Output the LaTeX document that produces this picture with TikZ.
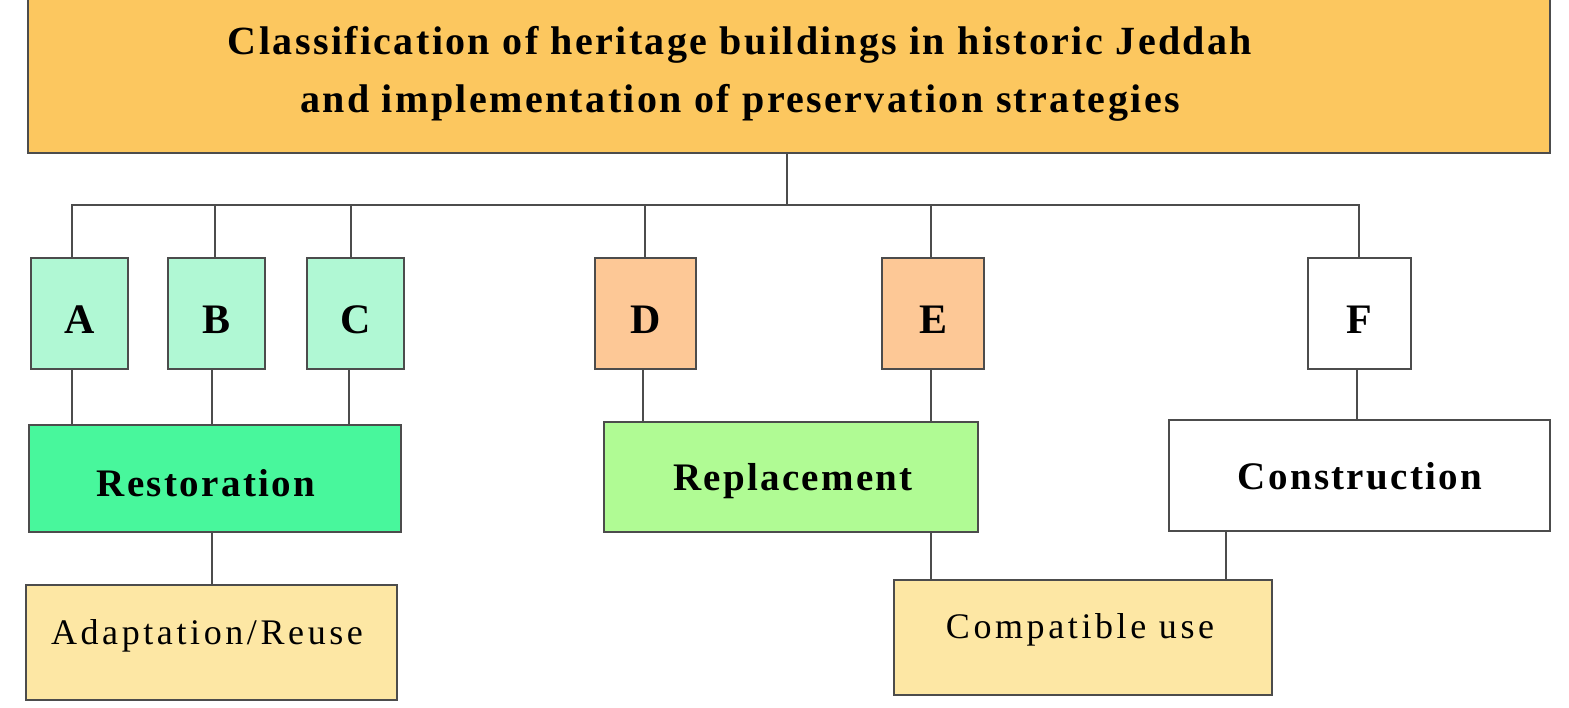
\documentclass[tikz,border=0pt]{standalone}
\usepackage{fontspec}
\setmainfont{Liberation Serif}
\begin{document}
\begin{tikzpicture}[x=1pt,y=-1pt,
 bx/.style={draw=black!70,line width=1.5pt,inner sep=0pt},
 ln/.style={draw=black!70,line width=2pt}]
\useasboundingbox (0,0) rectangle (1569,708);
\definecolor{top}{HTML}{FCC75F}
\definecolor{lg}{HTML}{B0F8D4}
\definecolor{or}{HTML}{FDC896}
\definecolor{rs}{HTML}{48F79C}
\definecolor{rp}{HTML}{B0FB94}
\definecolor{yl}{HTML}{FDE7A4}
\path[bx,fill=top] (28,-2) rectangle (1550,153);
\node[align=center,font=\bfseries\fontsize{40}{58}\selectfont\addfontfeature{LetterSpace=6}] (t) at (740,74) {Classification of heritage buildings in historic Jeddah\\ and implementation of preservation strategies};
\coordinate (tb) at (787,153);
\foreach \n/\a/\b/\c/\l in {A/31/128/lg/A,B/168/265/lg/B,C/307/404/lg/C,D/595/696/or/D,E/882/984/or/E,F/1308/1411/white/F}{
 \path[bx,fill=\c] (\a,258) rectangle (\b,369);
 \node[font=\bfseries\fontsize{42}{48}\selectfont] (\n) at ({(\a+\b)/2},320) {\l};
}
\tikzset{bl/.style={font=\bfseries\fontsize{39}{44}\selectfont\addfontfeature{LetterSpace=6}},
 rg/.style={font=\fontsize{36}{42}\selectfont\addfontfeature{LetterSpace=10}}}
\path[bx,fill=rs] (29,425) rectangle (401,532);
\node[bl] (rs) at (206,483) {Restoration};
\path[bx,fill=rp] (604,422) rectangle (978,532);
\node[bl] (rp) at (793,481) {Replacement};
\path[bx,fill=white] (1169,420) rectangle (1550,531);
\node[bl] (cn) at (1360,476) {Construction};
\path[bx,fill=yl] (26,585) rectangle (397,700);
\node[rg] (ad) at (207,636) {Adaptation/Reuse};
\path[bx,fill=yl] (894,580) rectangle (1272,695);
\node[rg] (cu) at (1080,630) {Compatible use};
\draw[ln] (tb) -- (787,205);
\draw[ln] (72,258) -- (72,205) -- (1359,205) -- (1359,258);
\foreach \x in {215,351,645,931} \draw[ln] (\x,205) -- (\x,258);
\foreach \x in {72,212,349} \draw[ln] (\x,369) -- (\x,425);
\foreach \x in {643,931} \draw[ln] (\x,369) -- (\x,422);
\draw[ln] (1357,369) -- (1357,420);
\draw[ln] (212,532) -- (212,585);
\draw[ln] (931,532) -- (931,580);
\draw[ln] (1226,531) -- (1226,580);
\end{tikzpicture}
\end{document}
